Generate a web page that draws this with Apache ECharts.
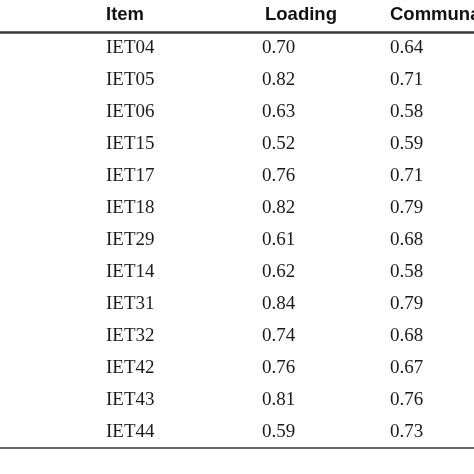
<!DOCTYPE html><html><head><meta charset="utf-8"><script src="https://cdn.jsdelivr.net/npm/echarts@6/dist/echarts.min.js"></script><style>html,body{margin:0;padding:0;background:#fff}#c{width:474px;height:474px}</style></head><body><div id="c"></div><script>
const headers=['Item','Loading','Communality'];
const items=['IET04','IET05','IET06','IET15','IET17','IET18','IET29','IET14','IET31','IET32','IET42','IET43','IET44'];
const loading=[0.70,0.82,0.63,0.52,0.76,0.82,0.61,0.62,0.84,0.74,0.76,0.81,0.59];
const communality=[0.64,0.71,0.58,0.59,0.71,0.79,0.68,0.58,0.79,0.68,0.67,0.76,0.73];
const cellFont={fontFamily:'Liberation Serif',fontSize:19,color:'#1a1a1a',align:'left',textBorderWidth:0,opacity:1};
const headFont={fontFamily:'Liberation Sans',fontWeight:'bold',fontSize:18.5,color:'#111',align:'left',textBorderWidth:0,opacity:1};
function col(ci,vals,fmt,dx){
  return {type:'scatter',xAxisIndex:0,yAxisIndex:0,symbolSize:0,silent:true,itemStyle:{opacity:1},
    data:vals.map((v,i)=>({value:[ci,i+1],txt:fmt(v)})).concat([{value:[ci,0],txt:headers[ci],label:Object.assign({},headFont,{offset:[dx.h,-1]})}]),
    label:Object.assign({show:true,position:'inside',offset:[dx.d,0],formatter:p=>p.data.txt},cellFont)};
}
const vert={top:-4.15,bottom:26};
const chart=echarts.init(document.getElementById('c'));
chart.setOption({animation:false,
 grid:[Object.assign({left:35,right:13},vert),Object.assign({left:0,right:0},vert)],
 xAxis:[{type:'value',min:-0.5,max:2.5,show:false,gridIndex:0},{type:'value',min:0,max:1,show:false,gridIndex:1}],
 yAxis:[{type:'value',min:-0.5,max:13.5,inverse:true,show:false,gridIndex:0},{type:'value',min:-0.5,max:13.5,inverse:true,show:false,gridIndex:1}],
 series:[
  col(0,items,v=>v,{h:0,d:0}),
  col(1,loading,v=>v.toFixed(2),{h:17,d:14}),
  col(2,communality,v=>v.toFixed(2),{h:0,d:0}),
  {type:'line',xAxisIndex:1,yAxisIndex:1,data:[],symbol:'none',
   markLine:{silent:true,symbol:'none',label:{show:false},
    data:[{yAxis:0.52,lineStyle:{color:'#3a3a3a',width:2.5,type:'solid'}},{yAxis:13.5,lineStyle:{color:'#3a3a3a',width:1.5,type:'solid'}}]}}
 ]});
</script></body></html>
